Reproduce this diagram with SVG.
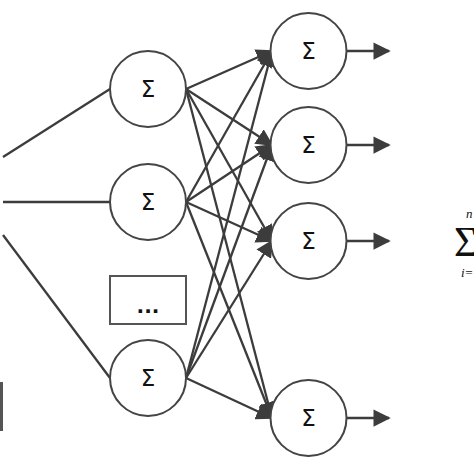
<svg xmlns="http://www.w3.org/2000/svg" width="474" height="474" viewBox="0 0 474 474">
<defs>
<style>
.node{fill:#fff;stroke:#444;stroke-width:2}
.lbl{font-family:"DejaVu Sans",sans-serif;font-size:23px;fill:#111;text-anchor:middle}
.ln{stroke:#3c3c3c;stroke-width:2.3;fill:none}
.arr{stroke:#3c3c3c;stroke-width:2.3;fill:none;marker-end:url(#ah)}
</style>
<marker id="ah" viewBox="0 0 10 10" refX="9" refY="5" markerWidth="7.5" markerHeight="7.5" markerUnits="strokeWidth" orient="auto">
<path d="M0,0 L10,5 L0,10 z" fill="#3c3c3c"/>
</marker>
</defs>
<rect width="474" height="474" fill="#fff"/>
<g id="connectors">
<line class="ln" x1="3" y1="157" x2="110" y2="89"/>
<line class="ln" x1="3" y1="202" x2="110" y2="202"/>
<line class="ln" x1="3" y1="235" x2="110" y2="378"/>
<line class="arr" x1="186" y1="89" x2="272" y2="51"/>
<line class="arr" x1="186" y1="89" x2="272" y2="145"/>
<line class="arr" x1="186" y1="89" x2="272" y2="241"/>
<line class="arr" x1="186" y1="89" x2="272" y2="418"/>
<line class="arr" x1="186" y1="202" x2="272" y2="51"/>
<line class="arr" x1="186" y1="202" x2="272" y2="145"/>
<line class="arr" x1="186" y1="202" x2="272" y2="241"/>
<line class="arr" x1="186" y1="202" x2="272" y2="418"/>
<line class="arr" x1="186" y1="378" x2="272" y2="51"/>
<line class="arr" x1="186" y1="378" x2="272" y2="145"/>
<line class="arr" x1="186" y1="378" x2="272" y2="241"/>
<line class="arr" x1="186" y1="378" x2="272" y2="418"/>
<line class="arr" x1="347" y1="51" x2="389" y2="51"/>
<line class="arr" x1="347" y1="145" x2="389" y2="145"/>
<line class="arr" x1="347" y1="241" x2="389" y2="241"/>
<line class="arr" x1="347" y1="418" x2="389" y2="418"/>
</g>
<g id="h1"><circle class="node" cx="148" cy="89" r="38"/><text class="lbl" x="148" y="97">Σ</text></g>
<g id="h2"><circle class="node" cx="148" cy="202" r="38"/><text class="lbl" x="148" y="210">Σ</text></g>
<g id="hdots"><rect x="110" y="276" width="76" height="48" fill="#fff" stroke="#555" stroke-width="2"/><text x="148" y="313" font-family="DejaVu Sans,sans-serif" font-size="20" font-weight="bold" fill="#111" text-anchor="middle">...</text></g>
<g id="h3"><circle class="node" cx="148" cy="378" r="38"/><text class="lbl" x="148" y="386">Σ</text></g>
<g id="o1"><circle class="node" cx="308.5" cy="51" r="38"/><text class="lbl" x="308.5" y="59">Σ</text></g>
<g id="o2"><circle class="node" cx="308.5" cy="145" r="38"/><text class="lbl" x="308.5" y="153">Σ</text></g>
<g id="o3"><circle class="node" cx="308.5" cy="241" r="38"/><text class="lbl" x="308.5" y="249">Σ</text></g>
<g id="o4"><circle class="node" cx="308.5" cy="418" r="38"/><text class="lbl" x="308.5" y="426">Σ</text></g>
<g id="formula" font-family="Liberation Serif,serif" fill="#111">
<text x="466" y="218" font-size="13" font-style="italic">n</text>
<text x="454" y="256" font-size="42">Σ</text>
<text x="461" y="277" font-size="13" font-style="italic">i=</text>
</g>
<rect id="leftbar" x="0" y="382" width="3" height="49" fill="#555"/>
</svg>
